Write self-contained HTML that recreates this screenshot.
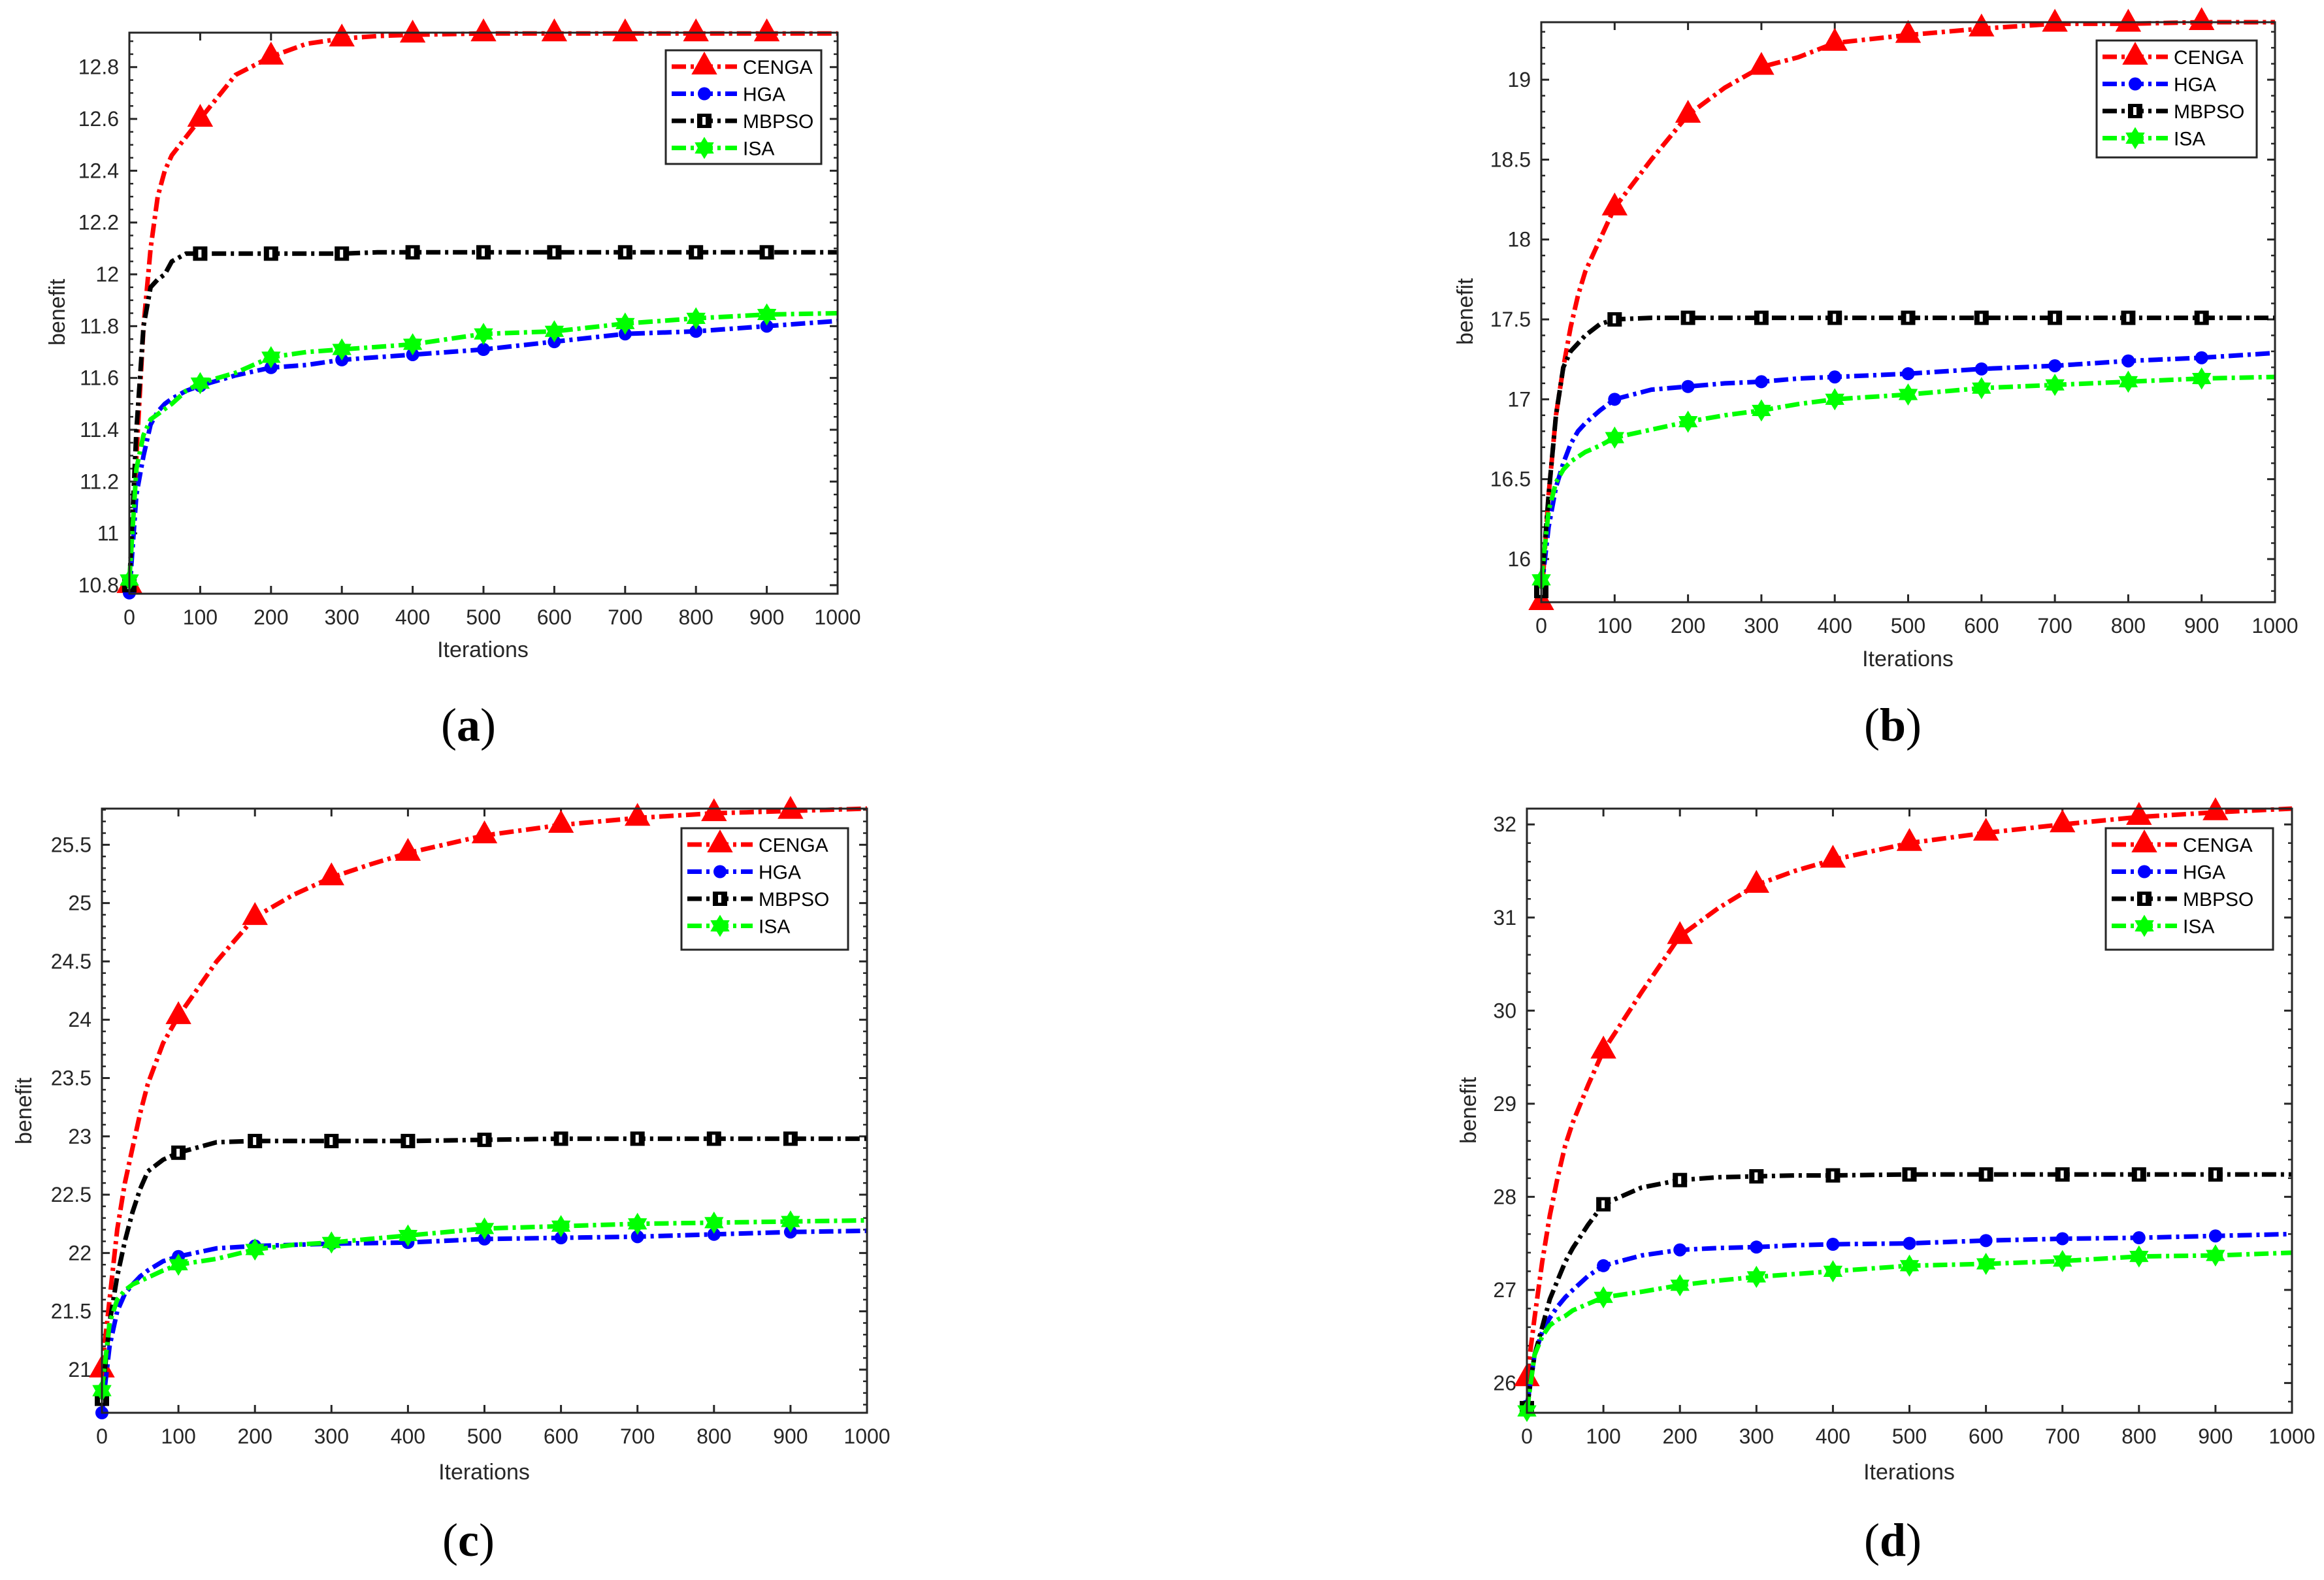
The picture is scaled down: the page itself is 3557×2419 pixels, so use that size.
<!DOCTYPE html>
<html><head><meta charset="utf-8"><style>
html,body{margin:0;padding:0;background:#fff;}
svg{display:block;}
text{font-family:"Liberation Sans",Arial,sans-serif;fill:#262626;}
.cap{font-family:"Liberation Serif","Times New Roman",serif;fill:#000;}
</style></head><body>
<svg id="fig" width="3557" height="2419" viewBox="0 0 3557 2419" xmlns="http://www.w3.org/2000/svg"></svg>
<script>
// shared iteration grid
const iters = [0,10,20,30,40,50,60,80,100,150,200,250,300,350,400,500,600,700,800,900,1000];
const xTicks = [0,100,200,300,400,500,600,700,800,900,1000];
const seriesNames = ["CENGA","HGA","MBPSO","ISA"];

// panel (a)
const aCENGA = [10.8,11.3,11.8,12.1,12.3,12.4,12.46,12.53,12.6,12.77,12.84,12.89,12.91,12.92,12.925,12.93,12.93,12.93,12.93,12.93,12.93];
const aHGA   = [10.77,11.15,11.3,11.42,11.47,11.5,11.52,11.55,11.57,11.61,11.64,11.65,11.67,11.68,11.69,11.71,11.74,11.77,11.78,11.8,11.82];
const aMBPSO = [10.8,11.4,11.8,11.95,11.98,12.0,12.05,12.08,12.08,12.08,12.08,12.08,12.08,12.085,12.085,12.085,12.085,12.085,12.085,12.085,12.085];
const aISA   = [10.82,11.25,11.38,11.44,11.46,11.48,11.5,11.55,11.58,11.62,11.68,11.7,11.71,11.72,11.73,11.77,11.78,11.81,11.83,11.845,11.85];
const aYTicks = ["10.8","11","11.2","11.4","11.6","11.8","12","12.2","12.4","12.6","12.8"];

// panel (b)
const bCENGA = [15.73,16.4,16.9,17.2,17.45,17.65,17.8,18.0,18.2,18.5,18.78,18.95,19.08,19.14,19.23,19.28,19.32,19.35,19.35,19.36,19.36];
const bHGA   = [15.8,16.2,16.45,16.6,16.72,16.8,16.85,16.93,17.0,17.06,17.08,17.1,17.11,17.13,17.14,17.16,17.19,17.21,17.24,17.26,17.29];
const bMBPSO = [15.8,16.4,16.9,17.2,17.3,17.35,17.4,17.47,17.5,17.51,17.51,17.51,17.51,17.51,17.51,17.51,17.51,17.51,17.51,17.51,17.51];
const bISA   = [15.87,16.3,16.48,16.56,16.61,16.64,16.67,16.71,16.76,16.81,16.86,16.9,16.93,16.97,17.0,17.03,17.07,17.09,17.11,17.13,17.14];
const bYTicks = ["16","16.5","17","17.5","18","18.5","19"];

// panel (c)
const cCENGA = [21.0,21.6,22.2,22.6,22.9,23.2,23.45,23.8,24.03,24.5,24.88,25.07,25.22,25.33,25.43,25.58,25.67,25.73,25.77,25.79,25.81];
const cHGA   = [20.63,21.2,21.5,21.65,21.73,21.8,21.85,21.93,21.97,22.04,22.06,22.07,22.08,22.085,22.09,22.12,22.13,22.14,22.16,22.18,22.19];
const cMBPSO = [20.75,21.4,21.8,22.1,22.35,22.55,22.7,22.8,22.86,22.95,22.96,22.96,22.96,22.96,22.96,22.97,22.98,22.98,22.98,22.98,22.98];
const cISA   = [20.82,21.4,21.6,21.68,21.73,21.76,21.79,21.85,21.9,21.95,22.03,22.07,22.09,22.12,22.15,22.21,22.23,22.25,22.26,22.27,22.28];
const cYTicks = ["21","21.5","22","22.5","23","23.5","24","24.5","25","25.5"];

// panel (d)
const dCENGA = [26.05,26.7,27.3,27.8,28.2,28.55,28.8,29.2,29.57,30.2,30.8,31.1,31.35,31.5,31.62,31.8,31.91,32.0,32.08,32.13,32.17];
const dHGA   = [25.75,26.3,26.55,26.7,26.82,26.92,27.0,27.15,27.26,27.37,27.43,27.45,27.46,27.48,27.49,27.5,27.53,27.55,27.56,27.58,27.6];
const dMBPSO = [25.73,26.3,26.6,26.9,27.1,27.3,27.45,27.7,27.92,28.1,28.18,28.21,28.22,28.23,28.23,28.24,28.24,28.24,28.24,28.24,28.24];
const dISA   = [25.7,26.3,26.5,26.62,26.68,26.72,26.78,26.85,26.92,26.98,27.05,27.1,27.14,27.17,27.2,27.26,27.28,27.31,27.36,27.37,27.4];
const dYTicks = ["26","27","28","29","30","31","32"];

const NS = "http://www.w3.org/2000/svg";
const svg = document.getElementById("fig");
function mk(tag, attrs, parent){
  const e = document.createElementNS(NS, tag);
  for (const k in attrs) e.setAttribute(k, attrs[k]);
  (parent||svg).appendChild(e);
  return e;
}
const colors = {CENGA:"#ff0000",HGA:"#0000ff",MBPSO:"#000000",ISA:"#00ff00"};
const markerKind = {CENGA:"tri",HGA:"circ",MBPSO:"sq",ISA:"star"};
const DASH = "22 7 5 7";

function drawMarker(g, kind, cx, cy, col){
  let m;
  if (kind==="tri"){
    m = mk("polygon",{points:`${cx},${cy-21} ${cx-18},${cy+11} ${cx+18},${cy+11}`,fill:col,stroke:col,"stroke-width":2},g);
  } else if (kind==="circ"){
    m = mk("circle",{cx:cx,cy:cy,r:10,fill:col},g);
  } else if (kind==="sq"){
    m = mk("rect",{x:cx-11,y:cy-11,width:22,height:22,fill:"#000"},g);
    mk("rect",{x:cx-3,y:cy-6,width:5,height:12,fill:"#fff"},g);
  } else {
    const r=17, r2=10; let pts=[];
    for(let i=0;i<12;i++){const ang=-Math.PI/2+i*Math.PI/6;const rr=i%2===0?r:r2;pts.push((cx+rr*Math.cos(ang)).toFixed(1)+","+(cy+rr*Math.sin(ang)).toFixed(1));}
    m = mk("polygon",{points:pts.join(" "),fill:col},g);
  }
  return m;
}

function panel(id, box, ymin, ymax, yTicks, minorStep, data, legendBox, benefitPos, iterPos, capPos, capLetter){
  const g = mk("g",{});
  
  
  const L=box[0], R=box[1], T=box[2], B=box[3];
  const xs = v => L + (v/1000)*(R-L);
  const ys = v => B - (v-ymin)/(ymax-ymin)*(B-T);
  mk("rect",{x:L,y:T,width:R-L,height:B-T,fill:"#fff"},g);
  // minor y ticks
  const first = Math.ceil(ymin/minorStep-1e-9);
  for(let k=first; k*minorStep<=ymax+1e-9; k++){
    const y = ys(k*minorStep);
    mk("line",{x1:L,x2:L+6,y1:y,y2:y,stroke:"#262626","stroke-width":2.5},g);
    mk("line",{x1:R,x2:R-6,y1:y,y2:y,stroke:"#262626","stroke-width":2.5},g);
  }
  // y major ticks + labels
  yTicks.forEach(t=>{
    const y = ys(parseFloat(t));
    mk("line",{x1:L,x2:L+12,y1:y,y2:y,stroke:"#262626","stroke-width":3},g);
    mk("line",{x1:R,x2:R-12,y1:y,y2:y,stroke:"#262626","stroke-width":3},g);
    const tx = mk("text",{x:L-16,y:y+11,"font-size":32,"text-anchor":"end"},g);
    
    
    tx.textContent = t;
  });
  // x ticks
  xTicks.forEach(t=>{
    const x = xs(t);
    mk("line",{x1:x,x2:x,y1:B,y2:B-12,stroke:"#262626","stroke-width":3},g);
    mk("line",{x1:x,x2:x,y1:T,y2:T+12,stroke:"#262626","stroke-width":3},g);
    const tx = mk("text",{x:x,y:B+47,"font-size":32,"text-anchor":"middle"},g);
    
    
    tx.textContent = t;
  });
  // series
  const cp = mk("clipPath",{id:"clip"+id},g);
  mk("rect",{x:L-30,y:T-30,width:R-L+30,height:B-T+60},cp);
  seriesNames.forEach(name=>{
    const vals = data[name];
    const col = colors[name];
    const sg = mk("g",{"clip-path":`url(#clip${id})`},g);
    
    
    const d = vals.map((v,i)=>(i?"L":"M")+xs(iters[i]).toFixed(1)+","+ys(v).toFixed(1)).join(" ");
    const p = mk("path",{d:d,fill:"none",stroke:col,"stroke-width":7,"stroke-dasharray":DASH,"stroke-linejoin":"round"},sg);
    
    
    vals.forEach((v,i)=>{
      if (iters[i]%100===0 && iters[i]<=900){
        const m = drawMarker(sg, markerKind[name], xs(iters[i]), ys(v), col);
        
        
      }
    });
  });
  // frame
  mk("rect",{x:L,y:T,width:R-L,height:B-T,fill:"none",stroke:"#262626","stroke-width":3},g);
  // legend
  const lg = mk("g",{},g);
  
  
  const [lx,ly,lw,lh] = legendBox;
  mk("rect",{x:lx,y:ly,width:lw,height:lh,fill:"#fff",stroke:"#262626","stroke-width":3},lg);
  seriesNames.forEach((name,i)=>{
    const cy = ly + 25 + i*41.5;
    const eg = mk("g",{},lg);
    
    
    mk("line",{x1:lx+9,x2:lx+109,y1:cy,y2:cy,stroke:colors[name],"stroke-width":7,"stroke-dasharray":DASH},eg);
    drawMarker(eg, markerKind[name], lx+59, cy, colors[name]);
    const t = mk("text",{x:lx+118,y:cy+11,"font-size":30,fill:"#000"},eg);
    t.style.fill="#000";
    t.textContent = name;
  });
  // axis titles
  const yt = mk("text",{x:benefitPos[0],y:benefitPos[1],"font-size":34,"text-anchor":"middle",transform:`rotate(-90 ${benefitPos[0]} ${benefitPos[1]})`},g);
  
  
  yt.textContent = "benefit";
  const xt = mk("text",{x:iterPos[0],y:iterPos[1],"font-size":34,"text-anchor":"middle"},g);
  
  
  xt.textContent = "Iterations";
  const ct = mk("text",{x:capPos[0],y:capPos[1],"font-size":72,"text-anchor":"middle","class":"cap"},g);
  
  
  ct.innerHTML = `(<tspan font-weight="bold">${capLetter}</tspan>)`;
}

panel("a",[198,1282,50,909],10.767,12.933,aYTicks,0.05,
  {CENGA:aCENGA,HGA:aHGA,MBPSO:aMBPSO,ISA:aISA},[1019,77,238,174],[99,478],[739,1006],[717,1134],"a");
panel("b",[2359,3482,34,922],15.73,19.36,bYTicks,0.1,
  {CENGA:bCENGA,HGA:bHGA,MBPSO:bMBPSO,ISA:bISA},[3209,62,245,179],[2254,477],[2920,1020],[2897,1134],"b");
panel("c",[156,1327,1238,2163],20.63,25.81,cYTicks,0.1,
  {CENGA:cCENGA,HGA:cHGA,MBPSO:cMBPSO,ISA:cISA},[1043,1268,255,186],[48,1701],[741,2265],[717,2382],"c");
panel("d",[2337,3508,1238,2163],25.68,32.17,dYTicks,0.2,
  {CENGA:dCENGA,HGA:dHGA,MBPSO:dMBPSO,ISA:dISA},[3223,1268,256,186],[2259,1700],[2922,2265],[2897,2382],"d");
</script>
</body></html>
